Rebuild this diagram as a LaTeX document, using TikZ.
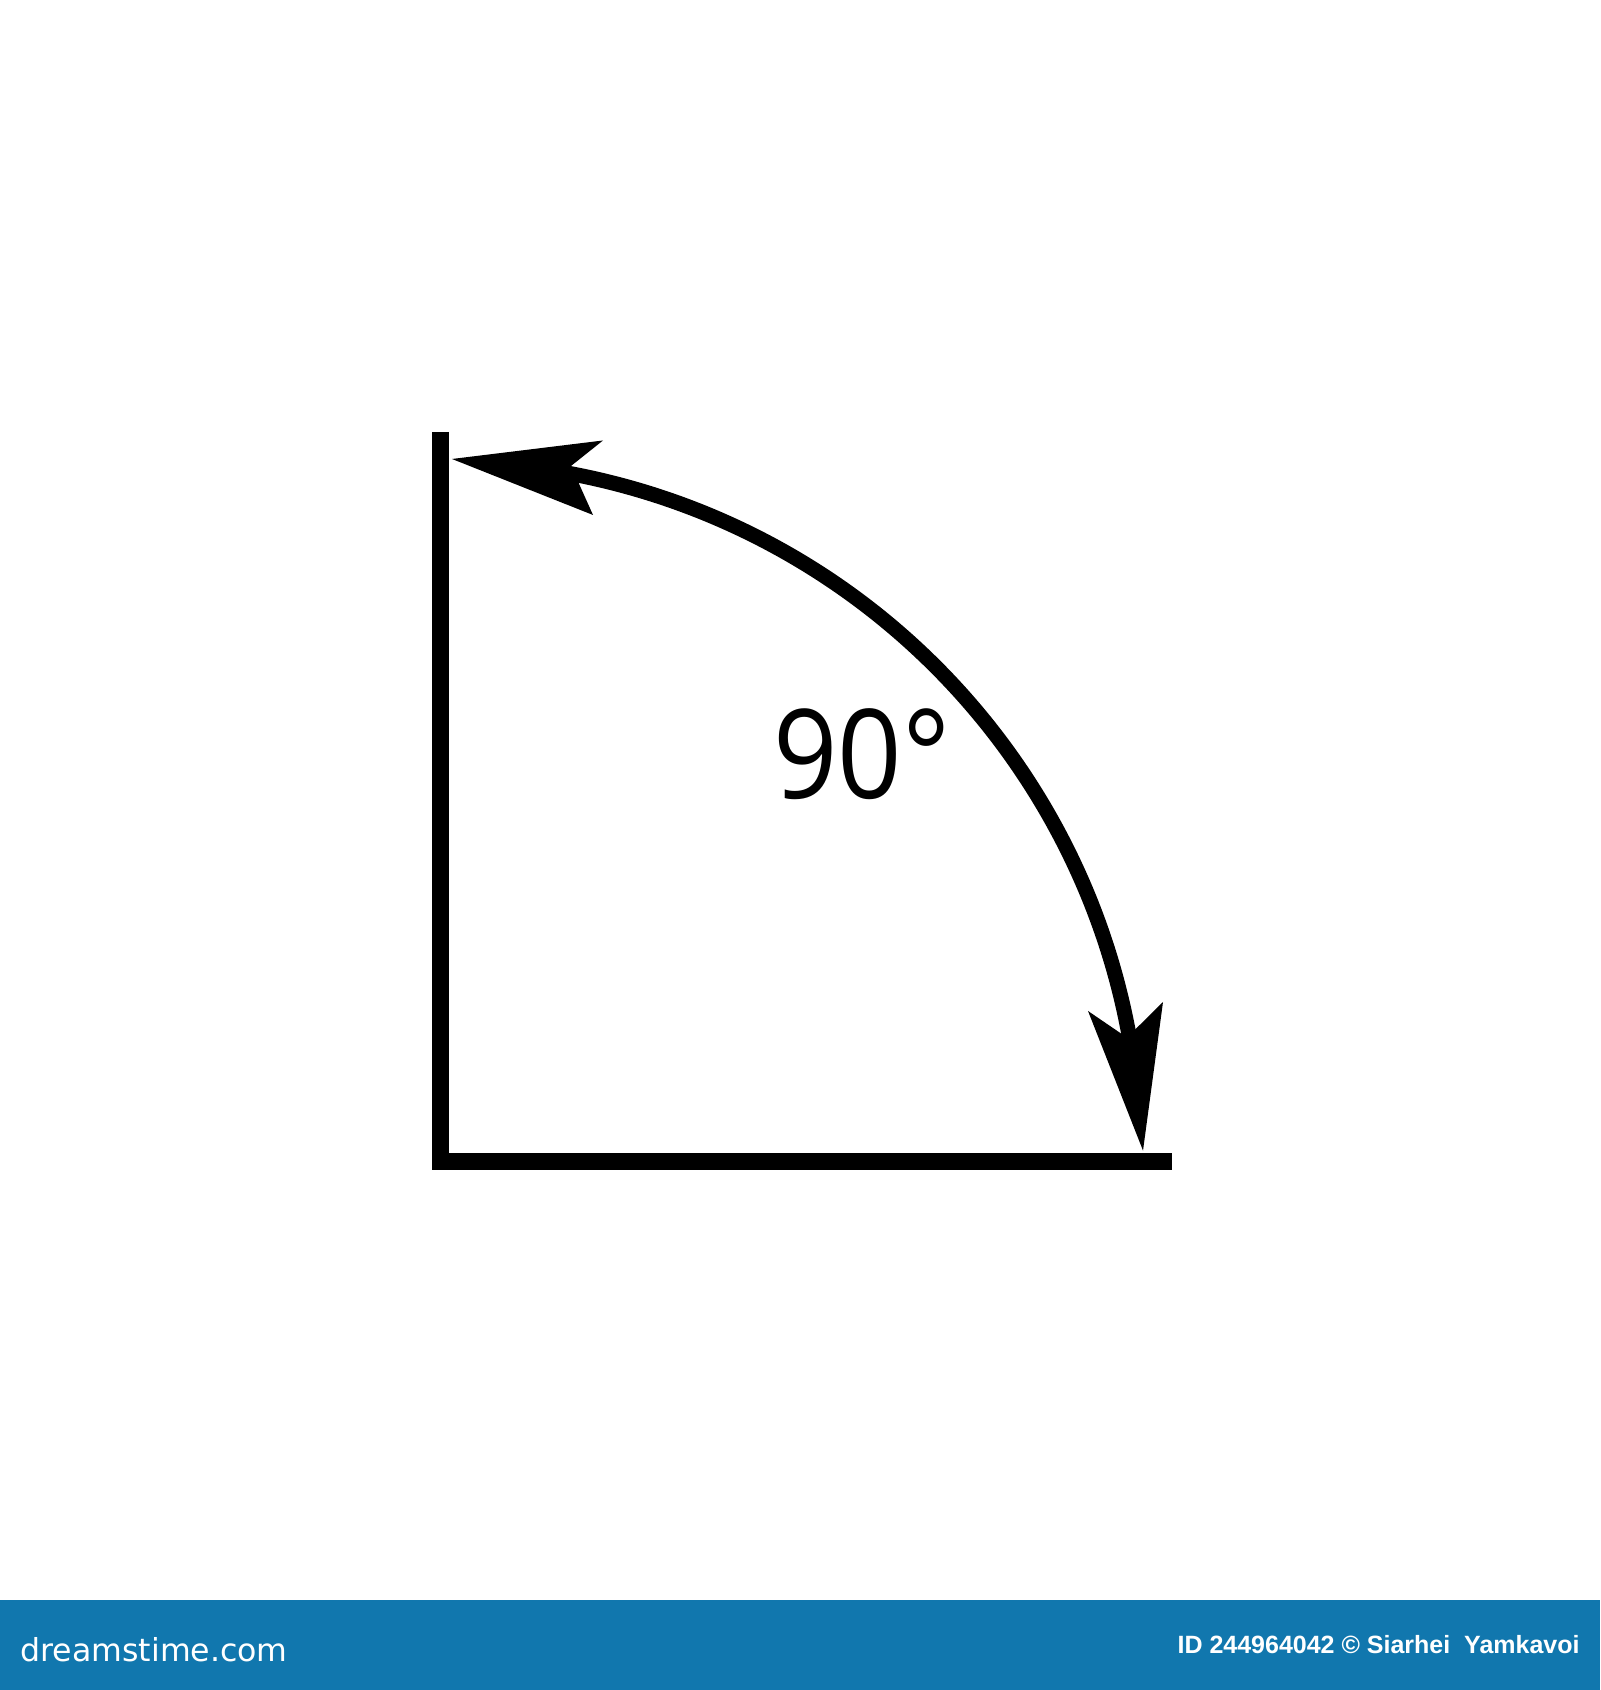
\documentclass[tikz,border=0pt]{standalone}
\usepackage{fontspec}
\setmainfont{Open Sans}
\newfontfamily\bandfont{DejaVu Sans}
\newfontfamily\creditfont{Liberation Sans}
\usetikzlibrary{calc}
\definecolor{bandblue}{HTML}{1177AE}

\begin{document}
\begin{tikzpicture}[x=0.5pt, y=0.5pt,
    axis/.style={line width=8.5pt, line join=miter, black},
    sweep/.style={line width=7.5pt, black},
    head/.style={fill=black},
    lbl/.style={font=\fontsize{62}{62}\selectfont, inner sep=0pt},
    band/.style={white, inner sep=0pt}]
    \useasboundingbox (0,0) rectangle (1600,1690);

    % Bottom band
    \fill[bandblue] (0,0) rectangle (1600,90);
    \node (site) [band, anchor=west, font=\bandfont\fontsize{15.8}{16}\selectfont] at (20,40) {dreamstime.com};
    \node (credit) [band, anchor=east, font=\creditfont\bfseries\fontsize{12.5}{13}\selectfont] at (1580,45)
      {ID 244964042 © Siarhei\ \ Yamkavoi};

    % Right angle
    \coordinate (O) at (440.5,528.5);
    \coordinate (top) at (440.5,1258);
    \coordinate (right) at (1172,528.5);
    \draw[axis] (top) -- (O) -- (right);

    % Sweep arrow
    \draw[sweep] ($(O)+(9:700)$) arc[start angle=9, end angle=81, radius=700];
    \fill[head] (452,1231) -- (603,1249.5) -- (571,1224) -- (593,1175) -- cycle;
    \fill[head] (1143,539.4) -- (1088,679) -- (1127,652.4) -- (1163,688) -- cycle;

    % Label
    \node (deg) [lbl] at (862,936) {\scalebox{0.91}[1]{90°}};
\end{tikzpicture}
\end{document}
